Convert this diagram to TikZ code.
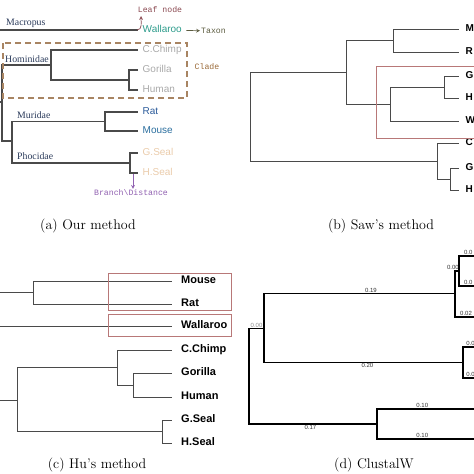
\documentclass[tikz,border=0pt]{standalone}
\usepackage{fontspec}
\newfontfamily\leaffont{Liberation Sans}
\newfontfamily\taxfont{Liberation Serif}
\newfontfamily\notefont{Liberation Mono}
\definecolor{linegray}{HTML}{4A4A4A}
\definecolor{tealc}{HTML}{2E9C8C}
\definecolor{grayc}{HTML}{A9A9A9}
\definecolor{ratc}{HTML}{2A5A9A}
\definecolor{mousec}{HTML}{2A6E9E}
\definecolor{sealc}{HTML}{EACBAA}
\definecolor{navyc}{HTML}{2A3A5A}
\definecolor{leafc}{HTML}{8B4A52}
\definecolor{taxonc}{HTML}{5B5B3F}
\definecolor{cladec}{HTML}{9B6B3A}
\definecolor{boxc}{HTML}{A88462}
\definecolor{distc}{HTML}{9060B0}
\definecolor{redboxc}{HTML}{B87878}
\begin{document}
\begin{tikzpicture}[x=1pt, y=-1pt, >=stealth,
  abranch/.style={draw=linegray, line width=1.1pt},
  bbranch/.style={draw=linegray, line width=0.9pt},
  dbranch/.style={draw=black, line width=1.2pt},
  aleaf/.style={anchor=west, inner xsep=4.5pt, inner ysep=0pt, text height=1.5ex, text depth=.3ex,
    font=\leaffont\fontsize{10}{12}\selectfont},
  bleaf/.style={anchor=west, inner xsep=6.5pt, inner ysep=0pt, text height=1.5ex, text depth=.3ex,
    font=\leaffont\bfseries\fontsize{10}{12}\selectfont},
  cleaf/.style={bleaf, inner xsep=9pt, font=\leaffont\bfseries\fontsize{11}{13}\selectfont},
  taxname/.style={anchor=south west, inner sep=1pt, text=navyc, font=\taxfont\fontsize{9.8}{11}\selectfont},
  note/.style={inner sep=1pt, font=\notefont\fontsize{8.2}{10}\selectfont},
  dlen/.style={inner sep=0.6pt, text=black!80, font=\leaffont\fontsize{6}{7}\selectfont},
  hbox/.style={draw=redboxc, line width=0.7pt},
  caption/.style={font=\fontsize{14}{16}\selectfont}]

\useasboundingbox (0,0) rectangle (474,474);
\clip (0,0) rectangle (474,474);

% (a) our method
\foreach \n/\t/\y/\c in {wal/Wallaroo/30/tealc, chimp/C.Chimp/50/grayc, gor/Gorilla/70/grayc,
    hum/Human/90/grayc, rat/Rat/112/ratc, mou/Mouse/131/mousec, gs/G.Seal/153/sealc, hs/H.Seal/173/sealc}
  \node [aleaf, text=\c] (a-\n) at (138,\y) {\t};

\coordinate (a-root) at (-6,66);
\coordinate (a-n1) at (2,102);
\coordinate (a-hom) at (51,65);
\coordinate (a-gh) at (129,80);
\coordinate (a-low) at (12,141);
\coordinate (a-mur) at (105,121.5);
\coordinate (a-pho) at (130,163);

\foreach \p/\c in {a-root/a-wal, a-root/a-n1, a-n1/a-hom, a-n1/a-low, a-hom/a-chimp, a-hom/a-gh,
    a-gh/a-gor, a-gh/a-hum, a-low/a-mur, a-low/a-pho, a-mur/a-rat, a-mur/a-mou, a-pho/a-gs, a-pho/a-hs}
  \draw [abranch] (\p) |- (\c);

\node [taxname] (a-mact) at (5,29) {Macropus};
\node [taxname] (a-homt) at (4,64) {Hominidae};
\node [taxname] (a-murt) at (16,120) {Muridae};
\node [taxname] (a-phot) at (16,161) {Phocidae};

\draw [draw=boxc, line width=1.3pt, dash pattern=on 6pt off 4pt] (3,43) rectangle (187,98);
\node [note, text=cladec] (a-clade) at (207,67) {Clade};

\node [note, text=leafc] (a-leafnode) at (160,10) {Leaf node};
\coordinate (a-leaffrom) at (137,30);
\coordinate (a-leaftip) at (141,16);
\draw [->, leafc, line width=0.7pt] (a-leaffrom) to [out=0, in=-90] (a-leaftip);

\node [note, text=taxonc, anchor=west] (a-taxon) at (200,31) {Taxon};
\draw [->, taxonc, line width=0.7pt] (a-wal) -- (a-taxon);

\node [note, text=distc] (a-dist) at (131,193) {Branch\textbackslash Distance};
\coordinate (a-distfrom) at (133,174);
\draw [->, distc, line width=0.7pt] (a-distfrom) -- (a-distfrom |- a-dist.north);

\node [caption] (a-cap) at (88,226) {(a) Our method};

% (b) saw's method
\foreach \n/\t/\y in {m/M/29, r/R/52, g1/G/76, h1/H/98, w/W/121, c/C/143, g2/G/168, h2/H/190}
  \node [bleaf] (b-\n) at (459,\y) {\t};

\coordinate (b-root) at (250,117);
\coordinate (b-up) at (346,72.5);
\coordinate (b-mr) at (393,40.5);
\coordinate (b-ghw) at (390,104);
\coordinate (b-gh) at (444,87);
\coordinate (b-down) at (437,161);
\coordinate (b-gs) at (450,179);

\foreach \p/\c in {b-root/b-up, b-root/b-down, b-up/b-mr, b-up/b-ghw, b-mr/b-m, b-mr/b-r, b-ghw/b-gh,
    b-ghw/b-w, b-gh/b-g1, b-gh/b-h1, b-down/b-c, b-down/b-gs, b-gs/b-g2, b-gs/b-h2}
  \draw [bbranch] (\p) |- (\c);

\draw [hbox] (376,66) rectangle (490,138);

\node [caption] (b-cap) at (381,226) {(b) Saw's method};

% (c) hu's method
\foreach \n/\t/\y in {mou/Mouse/281, rat/Rat/304, wal/Wallaroo/326, chimp/C.Chimp/350,
    gor/Gorilla/373, hum/Human/397, gs/G.Seal/420, hs/H.Seal/443}
  \node [cleaf] (c-\n) at (172,\y) {\t};

\coordinate (c-root) at (-6,360);
\coordinate (c-mr) at (33,292.5);
\coordinate (c-low) at (17,400);
\coordinate (c-cgh) at (117,367);
\coordinate (c-gh) at (133,385);
\coordinate (c-seal) at (162,431.5);

\foreach \p/\c in {c-root/c-mr, c-root/c-wal, c-root/c-low, c-mr/c-mou, c-mr/c-rat, c-low/c-cgh,
    c-low/c-seal, c-cgh/c-chimp, c-cgh/c-gh, c-gh/c-gor, c-gh/c-hum, c-seal/c-gs, c-seal/c-hs}
  \draw [bbranch] (\p) |- (\c);

\draw [hbox] (108,273) rectangle (231,310);
\draw [hbox] (108,314) rectangle (231,336);

\node [caption] (c-cap) at (97,465) {(c) Hu's method};

% (d) clustalw
\coordinate (d-root) at (249,376);
\coordinate (d-up) at (264,328.5);
\coordinate (d-a) at (455,293.5);
\coordinate (d-a1) at (459,271);
\coordinate (d-b) at (463,362.5);
\coordinate (d-lo) at (377,424);
\foreach \y [count=\i] in {256,286,317,347,378,409,439}
  \coordinate (d-l\i) at (480,\y);

\draw [dbranch] (d-root) |- (d-up) node [dlen, above, pos=.75, text=black!45] {0.00};
\draw [dbranch] (d-up) |- (d-a) node [dlen, above, pos=.78] {0.19};
\draw [dbranch] (d-up) |- (d-b) node [dlen, below, pos=.76] {0.20};
\draw [dbranch] (d-root) |- (d-lo) node [dlen, below, pos=.74] {0.17};
\draw [dbranch] (d-a) |- (d-a1) node [dlen, above left, pos=1, xshift=1pt] {0.00};

\foreach \p/\c/\l in {d-a1/d-l1/0.0, d-a1/d-l2/0.0, d-a/d-l3/0.02, d-b/d-l4/0.0, d-b/d-l5/0.0,
    d-lo/d-l6/0.10, d-lo/d-l7/0.10}
  \draw [dbranch] (\p) |- (\c) node [dlen, above, pos=.72] {\l};

\node [caption] (d-cap) at (374,465) {(d) ClustalW};

\end{tikzpicture}
\end{document}
